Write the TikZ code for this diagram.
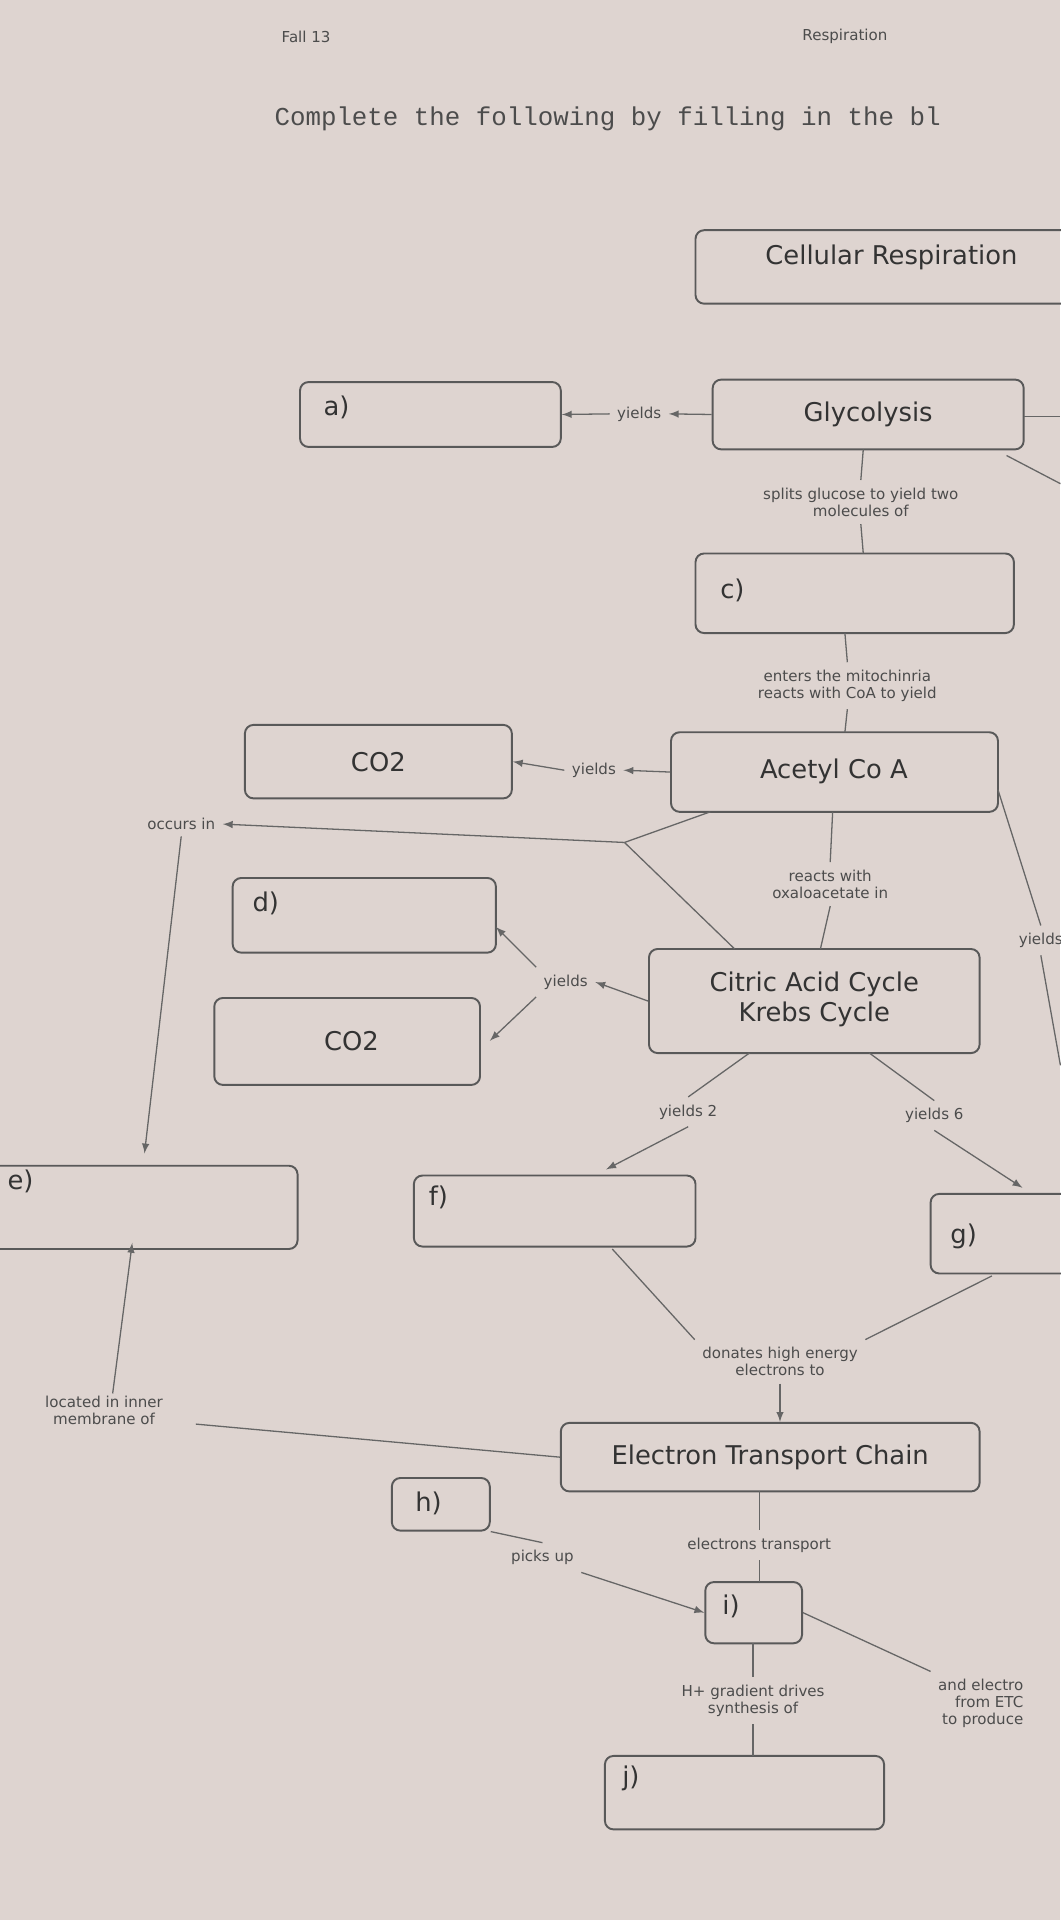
\documentclass[tikz,border=0pt]{standalone}
\usepackage{fontspec}
\setmainfont{DejaVu Sans}
\setmonofont{Liberation Mono}
\usetikzlibrary{fit}
\begin{document}
\begin{tikzpicture}[x=0.02cm,y=-0.02cm,
 bx/.style={draw=black!65,line width=0.9pt,rounded corners=4pt,inner sep=0pt},
 lbl/.style={font=\fontsize{7}{8}\selectfont,text=black!70,align=center},
 big/.style={font=\fontsize{12}{14}\selectfont,text=black!80,align=center},
 ln/.style={draw=black!60,line width=0.6pt},
 ar/.style={ln,-latex}]
\fill[color={rgb,255:red,222;green,212;blue,208}] (0,0) rectangle (866,1568);
\useasboundingbox (0,0) rectangle (866,1568);
\node[lbl] (fall) at (250,30) {Fall 13};
\node[lbl] (resp) at (690,30) {Respiration};
\node[anchor=west,font=\ttfamily\fontsize{12}{14}\selectfont,text=black!70] (inst) at (218,97) {Complete the following by filling in the bl};
% boxes
\node[bx,fit={(568,188)(880,248)}] (cr) {};
\node[big] at (728,210) {Cellular Respiration};
\node[bx,fit={(245,312)(458,365)}] (a) {};
\node[big,anchor=west] at (258,333) {a)};
\node[bx,fit={(582,310)(836,367)}] (gly) {};
\node[big] at (709,338) {Glycolysis};
\node[lbl] (t1) at (703,410) {splits glucose to yield two\\molecules of};
\node[bx,fit={(568,452)(828,517)}] (c) {};
\node[big,anchor=west] at (582,482) {c)};
\node[lbl] (t2) at (692,560) {enters the mitochinria\\reacts with CoA to yield};
\node[bx,fit={(200,592)(418,652)}] (co1) {};
\node[big] at (309,622) {CO2};
\node[bx,fit={(548,598)(815,663)}] (acoa) {};
\node[big] at (681,630) {Acetyl Co A};
\node[lbl] (occ) at (148,673) {occurs in};
\node[bx,fit={(190,717)(405,778)}] (d) {};
\node[big,anchor=west] at (200,738) {d)};
\node[lbl] (t3) at (678,722) {reacts with\\oxaloacetate in};
\node[bx,fit={(530,775)(800,860)}] (cit) {};
\node[big] at (665,816) {Citric Acid Cycle\\Krebs Cycle};
\node[bx,fit={(175,815)(392,886)}] (co2) {};
\node[big] at (287,850) {CO2};
\node[lbl] (y3) at (462,802) {yields};
\node[lbl] (y4) at (850,768) {yields};
\node[bx,fit={(-10,952)(243,1020)}] (e) {};
\node[big,anchor=west] at (0,965) {e)};
\node[bx,fit={(338,960)(568,1018)}] (f) {};
\node[big,anchor=west] at (344,978) {f)};
\node[bx,fit={(760,975)(880,1040)}] (g) {};
\node[big,anchor=west] at (770,1010) {g)};
\node[lbl] (y2) at (562,908) {yields 2};
\node[lbl] (y6) at (763,911) {yields 6};
\node[lbl] (don) at (637,1112) {donates high energy\\electrons to};
\node[lbl] (loc) at (85,1152) {located in inner\\membrane of};
\node[bx,fit={(458,1162)(800,1218)}] (etc) {};
\node[big] at (629,1190) {Electron Transport Chain};
\node[bx,fit={(320,1207)(400,1250)}] (h) {};
\node[big] at (350,1228) {h)};
\node[lbl] (et) at (620,1262) {electrons transport};
\node[lbl] (pu) at (443,1272) {picks up};
\node[bx,fit={(576,1292)(655,1342)}] (i) {};
\node[big] at (597,1312) {i)};
\node[lbl] (hg) at (615,1389) {H+ gradient drives\\synthesis of};
\node[lbl,anchor=north west,align=right] (ae) at (760,1365) {and electro\\from ETC\\to produce};
\node[bx,fit={(494,1434)(722,1494)}] (j) {};
\node[big,anchor=west] at (502,1452) {j)};
\node[lbl] (ya) at (522,338) {yields};
\node[lbl] (yc) at (485,629) {yields};
% connectors
\draw[ar] (gly.west) -- (ya.east); \draw[ar] (ya.west) -- (a.east);
\draw[ln] (705,367) -- (t1.north); \draw[ln] (t1.south) -- (705,452);
\draw[ln] (836,340) -- (866,340); \draw[ln] (822,372) -- (866,395);
\draw[ln] (690,517) -- (t2.north); \draw[ln] (t2.south) -- (690,598);
\draw[ar] (acoa.west) -- (yc.east); \draw[ar] (yc.west) -- (co1.east);
\draw[ln] (680,663) -- (t3.north); \draw[ln] (t3.south) -- (670,775);
\draw[ln] (580,663) -- (510,688); \draw[ar] (510,688) -- (occ.east);
\draw[ln] (510,688) -- (600,775);
\draw[ar] (148,683) -- (118,942);
\draw[ln] (815,645) -- (y4.north); \draw[ln] (y4.south) -- (866,870);
\draw[ar] (cit.west) -- (y3.east); \draw[ar] (y3.north west) -- (405,757); \draw[ar] (y3.south west) -- (400,850);
\draw[ln] (612,860) -- (y2.north); \draw[ar] (y2.south) -- (495,955);
\draw[ln] (710,860) -- (y6.north); \draw[ar] (y6.south) -- (835,970);
\draw[ln] (500,1020) -- (don.north west); \draw[ln] (810,1042) -- (don.north east);
\draw[ar] (don.south) -- (etc.north -| don.south);
\draw[ln] (etc.west) -- (160,1163);
\draw[ar] (92,1138) -- (108,1015);
\draw[ln] (h.south east) -- (pu.north); \draw[ar] (pu.south east) -- (i.west);
\draw[ln] (620,1218) -- (et.north); \draw[ln] (et.south) -- (620,1292);
\draw[ln] (i.east) -- (ae.north west);
\draw[ln] (615,1342) -- (hg.north); \draw[ln] (hg.south) -- (615,1434);
\end{tikzpicture}
\end{document}
